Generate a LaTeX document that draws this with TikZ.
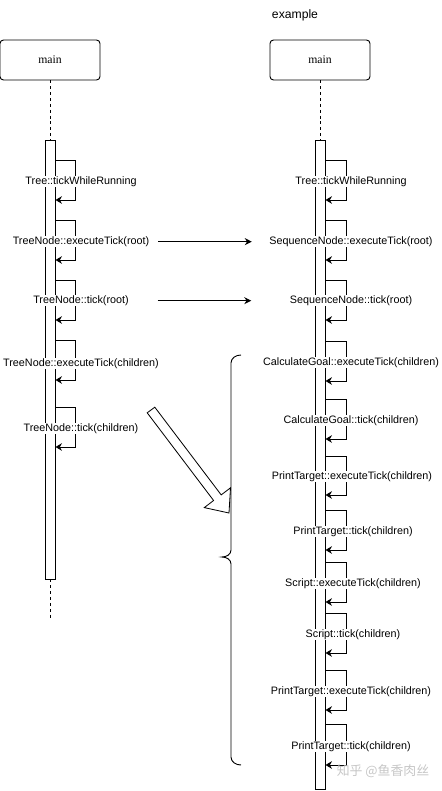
\documentclass[tikz,border=0pt]{standalone}
\usepackage{fontspec}
\setmainfont{Liberation Sans}
\newfontfamily\lifefont{Liberation Serif}
\newfontfamily\cjkfont{Noto Sans CJK SC}
\usepackage{tikz}
\usetikzlibrary{arrows.meta}

\begin{document}
\begin{tikzpicture}[
  x=0.03cm, y=-0.03cm,
  lifebox/.style={draw, rounded corners=3pt, minimum width=3cm,
                  minimum height=1.2cm, line width=0.8pt,
                  font=\lifefont\fontsize{10}{12}\selectfont},
  bar/.style={draw, fill=white, minimum width=0.3cm, inner sep=0pt, line width=0.8pt},
  lifeline/.style={dash pattern=on 2.5pt off 2.5pt, line width=0.7pt},
  call/.style={-{Stealth[length=5.5pt,width=6.5pt]}, line width=0.85pt},
  lbl/.style={fill=white, inner sep=0.6pt, yshift=-0.05cm, font=\fontsize{9.2}{11}\selectfont},
  arrow/.style={-{Stealth[length=6pt,width=6pt]}, line width=0.85pt}
]
\useasboundingbox (0,0) rectangle (441,791);

% lifelines
\node[font=\fontsize{10.4}{12}\selectfont] (title) at (295,15) {example};
\node[lifebox] (mainA) at (50,60)  {main};
\node[lifebox] (mainB) at (320,60) {main};
\node[bar, minimum height=13.17cm] (actA) at (50,359.5)  {};
\node[bar, minimum height=19.47cm] (actB) at (320,464.5) {};
\coordinate (endA) at (50,618);

\draw[lifeline] (mainA) -- (actA);
\draw[lifeline] (actA) -- (endA);
\draw[lifeline] (mainB) -- (actB);

% self calls, left
\draw[call] (55,160) -| (75,200) -- (55.5,200);
\draw[call] (55,220) -| (75,260) -- (55.5,260);
\draw[call] (55,280) -| (75,320) -- (55.5,320);
\draw[call] (55,340) -| (75,380) -- (55.5,380);
\draw[call] (55,407) -| (75,447) -- (55.5,447);

% self calls, right
\draw[call] (325,160) -| (346,200) -- (325.5,200);
\draw[call] (325,220) -| (346,260) -- (325.5,260);
\draw[call] (325,280) -| (346,320) -- (325.5,320);
\draw[call] (325,341) -| (346,381) -- (325.5,381);
\draw[call] (325,399) -| (346,439) -- (325.5,439);
\draw[call] (325,456) -| (346,495) -- (325.5,495);
\draw[call] (325,510) -| (346,550) -- (325.5,550);
\draw[call] (325,562) -| (346,602) -- (325.5,602);
\draw[call] (325,613) -| (346,653) -- (325.5,653);
\draw[call] (325,670) -| (346,710) -- (325.5,710);
\draw[call] (325,724) -| (346,765) -- (325.5,765);

% labels, left
\node[lbl] (tA1) at (81,180) {Tree::tickWhileRunning};
\node[lbl] (tA2) at (81,240) {TreeNode::executeTick(root)};
\node[lbl] (tA3) at (81,299) {TreeNode::tick(root)};
\node[lbl] (tA4) at (81,362) {TreeNode::executeTick(children)};
\node[lbl] (tA5) at (81,427) {TreeNode::tick(children)};

% labels, right
\node[lbl] (tB1)  at (351,180) {Tree::tickWhileRunning};
\node[lbl] (tB2)  at (351,240) {SequenceNode::executeTick(root)};
\node[lbl] (tB3)  at (351,299) {SequenceNode::tick(root)};
\node[lbl] (tB4)  at (351,361) {CalculateGoal::executeTick(children)};
\node[lbl] (tB5)  at (351,419) {CalculateGoal::tick(children)};
\node[lbl] (tB6)  at (352,475) {PrintTarget::executeTick(children)};
\node[lbl] (tB7)  at (353,530) {PrintTarget::tick(children)};
\node[lbl] (tB8)  at (353,582) {Script::executeTick(children)};
\node[lbl] (tB9)  at (353,633) {Script::tick(children)};
\node[lbl] (tB10) at (351,690) {PrintTarget::executeTick(children)};
\node[lbl] (tB11) at (351,745) {PrintTarget::tick(children)};

% mapping
\draw[arrow, shorten <=0.24cm, shorten >=0.5cm] (tA2.east) -- (tB2.west);
\draw[arrow, shorten <=0.84cm, shorten >=1.13cm] (tA3.east) -- (tB3.west);

% big hollow arrow
\draw[line width=0.7pt, fill=white] (154.8,407.2) -- (221.2,494.9) -- (230.5,487.8)
  -- (229,513) -- (204.3,507.6) -- (213.6,500.5) -- (147.2,412.8) -- cycle;

% brace
\draw[line width=0.8pt] (241,355) to[out=180,in=90] (231,363) -- (231,550)
  to[out=-90,in=0] (222,557) to[out=0,in=90] (231,564) -- (231,757)
  to[out=-90,in=180] (241,765);

\node[text=gray!45, font=\cjkfont\fontsize{11}{13}\selectfont] (mark) at (383,771) {知乎 @鱼香肉丝};
\end{tikzpicture}
\end{document}
